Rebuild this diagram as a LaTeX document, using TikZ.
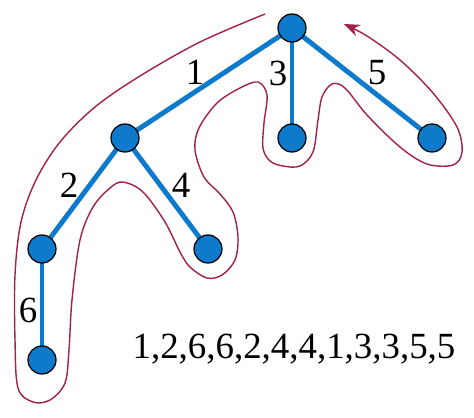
\documentclass[tikz,border=0pt]{standalone}
\usepackage{fontspec}
\setmainfont{Liberation Serif}
\usetikzlibrary{arrows.meta,backgrounds}
\definecolor{treeblue}{RGB}{14,122,204}
\definecolor{tourred}{RGB}{163,32,78}
\tikzset{
  vertex/.style={circle,draw=black,line width=0.7pt,fill=treeblue,minimum size=0.56cm,inner sep=0pt},
  edge/.style={treeblue,line width=2.8pt},
  lbl/.style={font=\fontsize{21}{21}\selectfont,inner sep=0pt}
}
\begin{document}
\begin{tikzpicture}[x=0.02cm,y=-0.02cm]
            \useasboundingbox (0,0) rectangle (474,417);
            \node[vertex] (root) at (292,28) {};
            \node[vertex] (a) at (125,138) {};
            \node[vertex] (b) at (292,138) {};
            \node[vertex] (c) at (432,138) {};
            \node[vertex] (d) at (42,249) {};
            \node[vertex] (e) at (208,249) {};
            \node[vertex] (f) at (42,360) {};
            \begin{scope}[on background layer]
                \draw[edge] (root.center) -- (a.center);
                \draw[edge] (root.center) -- (b.center);
                \draw[edge] (root.center) -- (c.center);
                \draw[edge] (a.center) -- (d.center);
                \draw[edge] (a.center) -- (e.center);
                \draw[edge] (d.center) -- (f.center);
            \end{scope}
            \node[lbl] (l1) at (195,72) {1};
            \node[lbl] (l3) at (278,73) {3};
            \node[lbl] (l5) at (377,73) {5};
            \node[lbl] (l2) at (69,185) {2};
            \node[lbl] (l4) at (181,185) {4};
            \node[lbl] (l6) at (28,310) {6};
            \node[lbl,anchor=base] (seq) at (294,358) {1,2,6,6,2,4,4,1,3,3,5,5};
            \draw[tourred,line width=0.8pt,-{Stealth[length=9pt,width=7pt]}]
                plot[smooth,tension=0.55] coordinates {
                (265,14) (200,42) (140,76) (95,107) (60,142) (36,180) (21,222) (15,275)
                (15,340) (18,388) (33,402) (50,400) (65,383) (69,350) (72,300) (80,240) (93,207)
                (110,188) (123,182) (143,192) (165,222) (180,252) (190,267) (207,278)
                (222,275) (235,260) (238,237) (233,212) (220,194) (204,177) (195,150)
                (199,128) (217,103) (240,88) (258,82) (267,95) (264,123) (263,148)
                (270,161) (283,166) (300,166) (313,152) (318,120) (322,97) (332,84)
                (345,88) (367,115) (400,147) (427,164) (453,165) (462,152) (457,127)
                (433,93) (400,60) (367,36) (344,24)};
        \end{tikzpicture}
\end{document}
